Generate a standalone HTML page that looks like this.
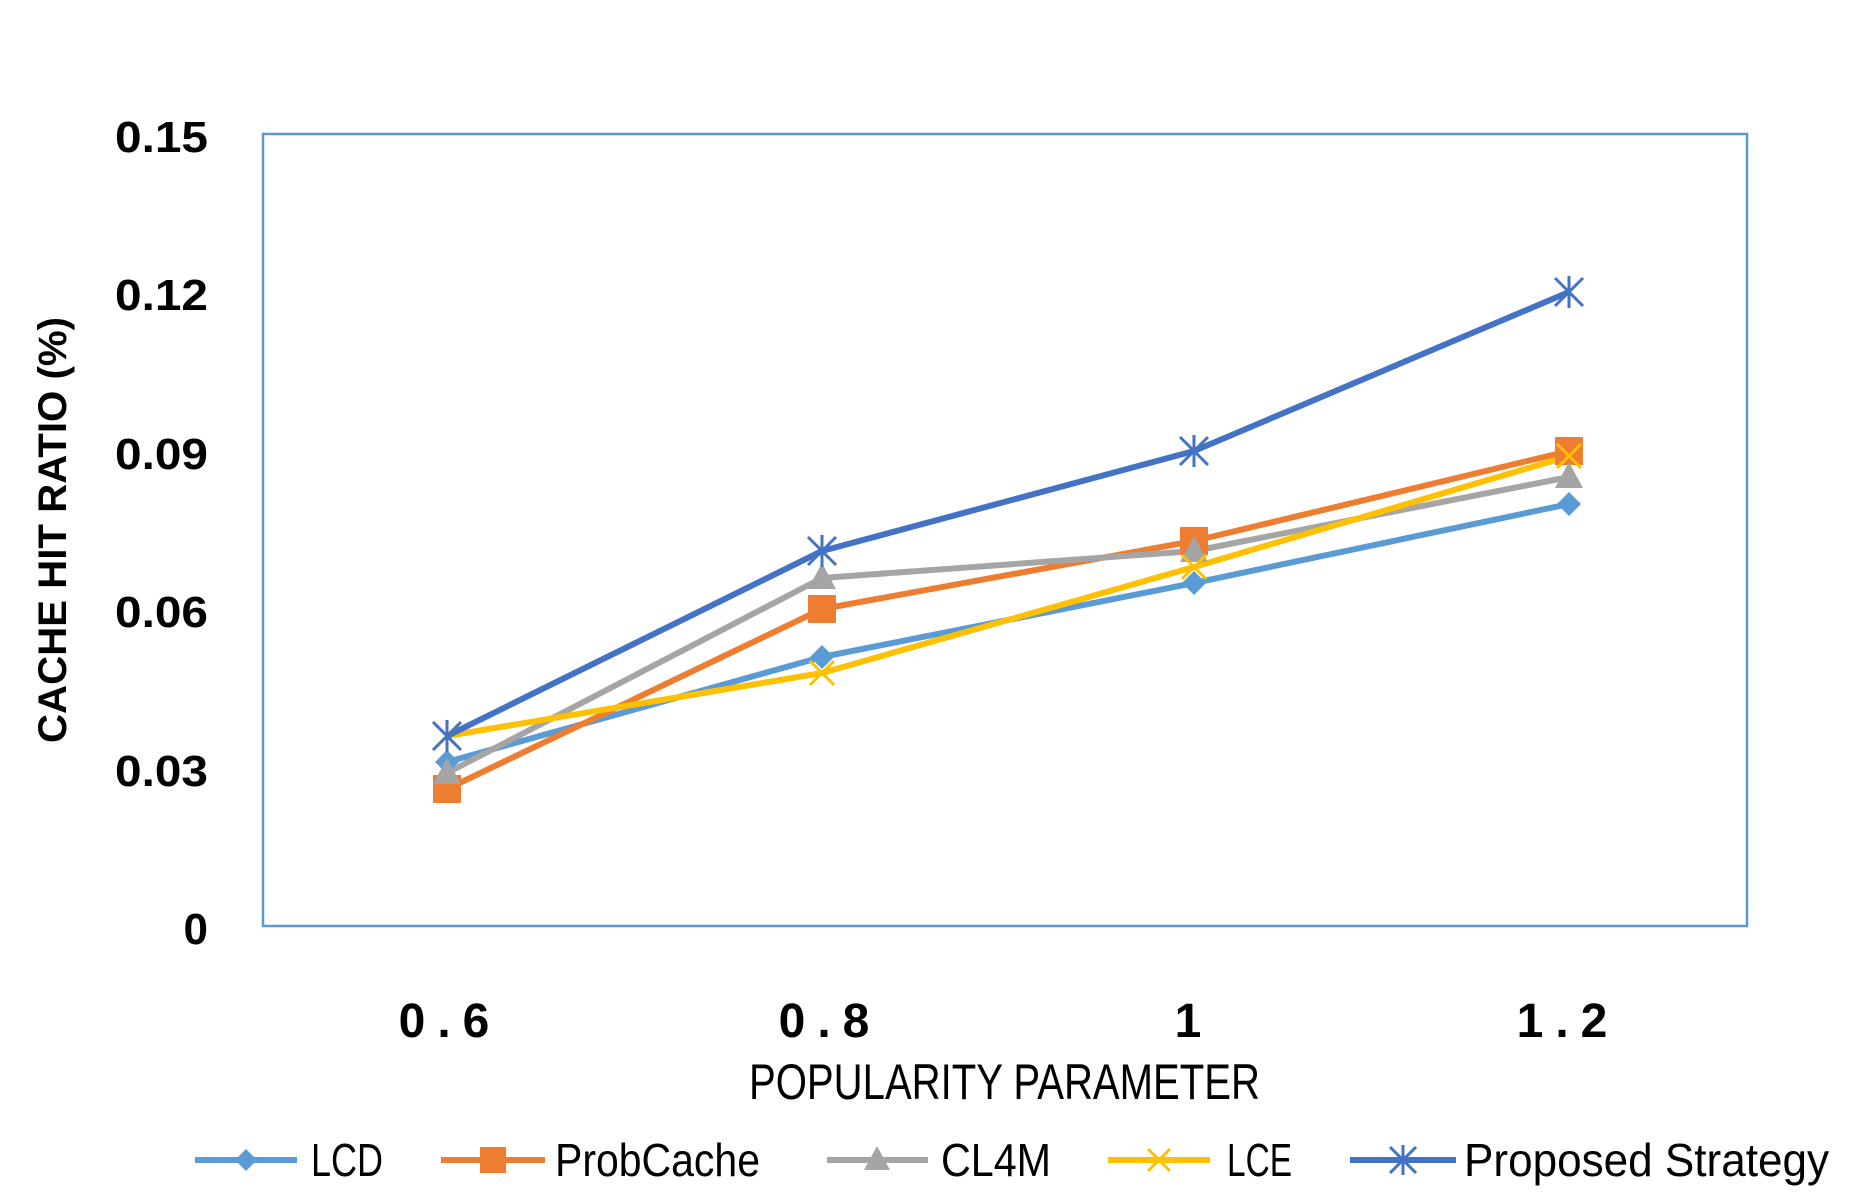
<!DOCTYPE html>
<html><head><meta charset="utf-8"><style>
html,body{margin:0;padding:0;background:#fff;}
svg{display:block;}
text{font-family:"Liberation Sans",sans-serif;fill:#000;}
</style></head><body>
<svg width="1869" height="1193" viewBox="0 0 1869 1193" xmlns="http://www.w3.org/2000/svg">
<rect width="1869" height="1193" fill="#fff"/>
<rect x="263" y="134" width="1484" height="792" fill="none" stroke="#5b9bd5" stroke-width="2.5"/>
<g font-size="44" font-weight="bold" text-anchor="end">
<text x="208" y="152" textLength="93" lengthAdjust="spacingAndGlyphs">0.15</text>
<text x="208" y="310" textLength="93" lengthAdjust="spacingAndGlyphs">0.12</text>
<text x="208" y="469" textLength="93" lengthAdjust="spacingAndGlyphs">0.09</text>
<text x="208" y="627" textLength="93" lengthAdjust="spacingAndGlyphs">0.06</text>
<text x="208" y="786" textLength="93" lengthAdjust="spacingAndGlyphs">0.03</text>
<text x="208" y="944">0</text>
</g>
<g font-size="48" font-weight="bold" text-anchor="middle" letter-spacing="12">
<text x="450" y="1037">0.6</text>
<text x="830" y="1037">0.8</text>
<text x="1194" y="1037">1</text>
<text x="1568" y="1037">1.2</text>
</g>
<text x="749" y="1099" font-size="50" textLength="511" lengthAdjust="spacingAndGlyphs">POPULARITY PARAMETER</text>
<text transform="translate(66,743) rotate(-90)" font-size="40" font-weight="bold" textLength="426" lengthAdjust="spacingAndGlyphs">CACHE HIT RATIO (%)</text>
<g fill="none" stroke-width="6" stroke-linejoin="round">
<polyline stroke="#5b9bd5" points="447,762 822,657 1194,583 1569,504"/>
<polyline stroke="#ed7d31" points="447,789 822,609 1194,541 1569,451"/>
<polyline stroke="#a5a5a5" points="447,773 822,578 1194,551 1569,477"/>
<polyline stroke="#ffc000" points="447,736 822,673 1194,567 1569,456"/>
<polyline stroke="#4472c4" points="447,736 822,551 1194,451 1569,292"/>
</g>
<g>
<polygon points="447,750 459,762 447,774 435,762" fill="#5b9bd5"/>
<polygon points="822,645 834,657 822,669 810,657" fill="#5b9bd5"/>
<polygon points="1194,571 1206,583 1194,595 1182,583" fill="#5b9bd5"/>
<polygon points="1569,492 1581,504 1569,516 1557,504" fill="#5b9bd5"/>
<rect x="433" y="775" width="28" height="28" fill="#ed7d31"/>
<rect x="808" y="595" width="28" height="28" fill="#ed7d31"/>
<rect x="1180" y="527" width="28" height="28" fill="#ed7d31"/>
<rect x="1555" y="437" width="28" height="28" fill="#ed7d31"/>
<polygon points="447,758 461,784 433,784" fill="#a5a5a5"/>
<polygon points="822,563 836,589 808,589" fill="#a5a5a5"/>
<polygon points="1194,536 1208,562 1180,562" fill="#a5a5a5"/>
<polygon points="1569,462 1583,488 1555,488" fill="#a5a5a5"/>
</g>
<g stroke-width="3" fill="none">
<path stroke="#ffc000" d="M435,724l24,24M459,724l-24,24M810,661l24,24M834,661l-24,24M1182,555l24,24M1206,555l-24,24M1557,444l24,24M1581,444l-24,24"/>
<path stroke="#4472c4" d="M433,722l28,28M461,722l-28,28M447,720v32M808,537l28,28M836,537l-28,28M822,535v32M1180,437l28,28M1208,437l-28,28M1194,435v32M1555,278l28,28M1583,278l-28,28M1569,276v32"/>
</g>
<g stroke-width="6">
<line x1="195" y1="1160" x2="297" y2="1160" stroke="#5b9bd5"/>
<line x1="441" y1="1160" x2="545" y2="1160" stroke="#ed7d31"/>
<line x1="827" y1="1160" x2="928" y2="1160" stroke="#a5a5a5"/>
<line x1="1108" y1="1160" x2="1210" y2="1160" stroke="#ffc000"/>
<line x1="1350" y1="1160" x2="1456" y2="1160" stroke="#4472c4"/>
</g>
<polygon points="246,1149 257,1160 246,1171 235,1160" fill="#5b9bd5"/>
<rect x="480" y="1147" width="26" height="26" fill="#ed7d31"/>
<polygon points="877,1146 890,1170 864,1170" fill="#a5a5a5"/>
<path d="M1148,1149l22,22M1170,1149l-22,22" stroke="#ffc000" stroke-width="3"/>
<path d="M1390,1147l26,26M1416,1147l-26,26M1403,1145v30" stroke="#4472c4" stroke-width="3"/>
<g font-size="46">
<text x="311" y="1176" textLength="72" lengthAdjust="spacingAndGlyphs">LCD</text>
<text x="555" y="1176" textLength="205" lengthAdjust="spacingAndGlyphs">ProbCache</text>
<text x="941" y="1176" textLength="110" lengthAdjust="spacingAndGlyphs">CL4M</text>
<text x="1227" y="1176" textLength="65" lengthAdjust="spacingAndGlyphs">LCE</text>
<text x="1464" y="1176" textLength="365" lengthAdjust="spacingAndGlyphs">Proposed Strategy</text>
</g>
</svg>
</body></html>
